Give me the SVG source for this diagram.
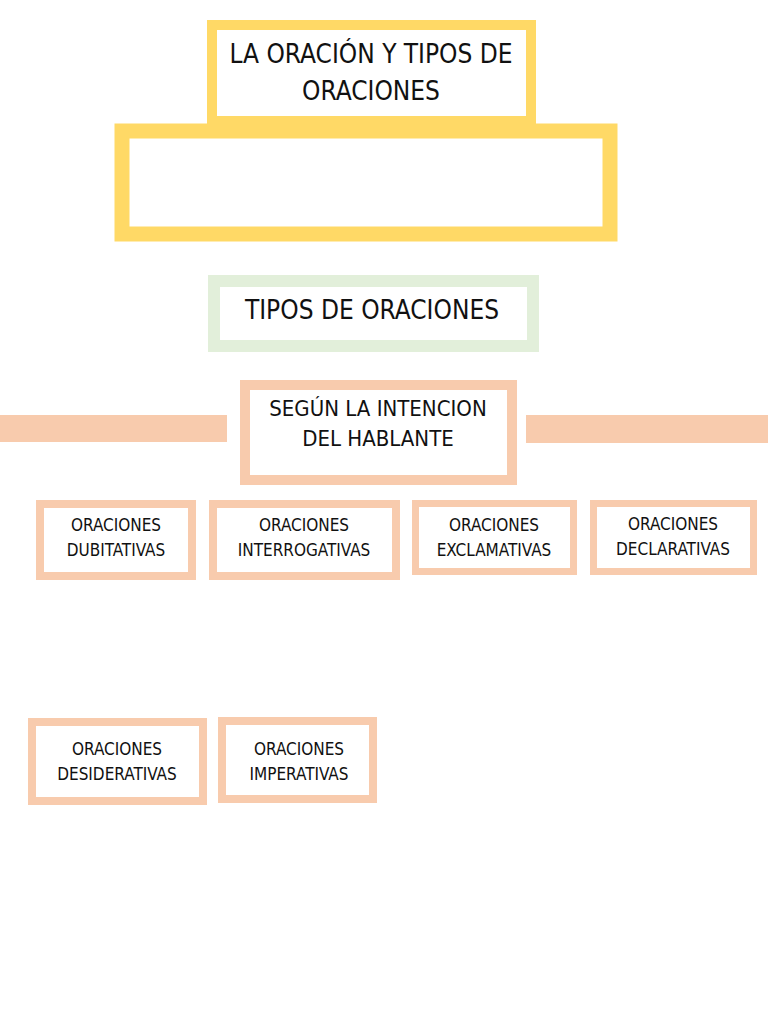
<svg xmlns="http://www.w3.org/2000/svg" width="768" height="1024" viewBox="0 0 768 1024">
<style>
.y{fill:#fff;stroke:#ffd966}
.g{fill:#fff;stroke:#e2efda}
.p{fill:#fff;stroke:#f8cbad}
.bar{fill:#f8cbad}
text{font-family:"Liberation Sans Narrow","DejaVu Sans Condensed",sans-serif;fill:#111;text-anchor:middle}
.t{font-size:26px}
.s{font-size:22px}
.n{font-size:17px}
</style>
<rect width="768" height="1024" fill="#fff"/>
<g id="connectors">
<rect class="bar" x="0" y="415" width="227" height="27"/>
<rect class="bar" x="526" y="415" width="242" height="28"/>
</g>
<g id="title"><rect class="y" x="212" y="25" width="319" height="96" stroke-width="10"/>
<text class="t" x="371" y="63">LA ORACIÓN Y TIPOS DE</text><text class="t" x="371" y="100">ORACIONES</text></g>
<g id="desc"><rect class="y" x="122" y="131" width="488" height="103" stroke-width="15"/></g>
<g id="tipos"><rect class="g" x="214" y="281" width="319" height="65" stroke-width="12"/>
<text class="t" x="372" y="319">TIPOS DE ORACIONES</text></g>
<g id="segun"><rect class="p" x="245" y="385" width="267" height="95" stroke-width="10"/>
<text class="s" x="378" y="416">SEGÚN LA INTENCION</text><text class="s" x="378" y="446">DEL HABLANTE</text></g>
<g id="dub"><rect class="p" x="40" y="504" width="152" height="72" stroke-width="8"/>
<text class="n" x="116" y="531">ORACIONES</text><text class="n" x="116" y="556">DUBITATIVAS</text></g>
<g id="int"><rect class="p" x="213" y="504" width="183" height="72" stroke-width="8"/>
<text class="n" x="304" y="531">ORACIONES</text><text class="n" x="304" y="556">INTERROGATIVAS</text></g>
<g id="exc"><rect class="p" x="415.5" y="503.5" width="158" height="68" stroke-width="7"/>
<text class="n" x="494" y="531">ORACIONES</text><text class="n" x="494" y="556">EXCLAMATIVAS</text></g>
<g id="dec"><rect class="p" x="593.5" y="503.5" width="160" height="68" stroke-width="7"/>
<text class="n" x="673" y="530">ORACIONES</text><text class="n" x="673" y="555">DECLARATIVAS</text></g>
<g id="des"><rect class="p" x="32" y="722" width="171" height="79" stroke-width="8"/>
<text class="n" x="117" y="755">ORACIONES</text><text class="n" x="117" y="780">DESIDERATIVAS</text></g>
<g id="imp"><rect class="p" x="222" y="721" width="151" height="78" stroke-width="8"/>
<text class="n" x="299" y="755">ORACIONES</text><text class="n" x="299" y="780">IMPERATIVAS</text></g>
</svg>
